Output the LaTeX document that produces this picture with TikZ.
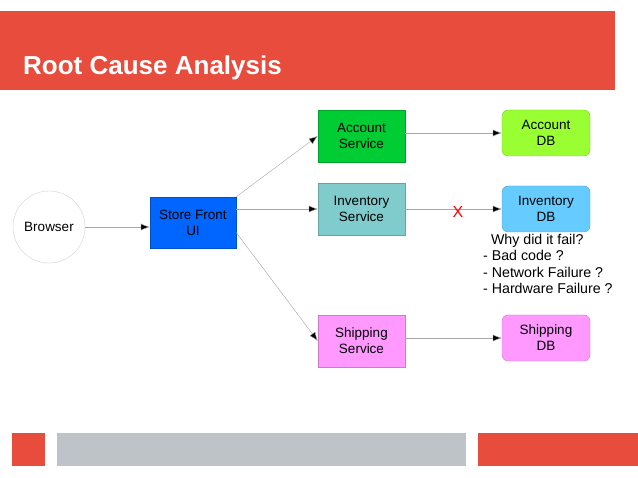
\documentclass[tikz,border=0pt]{standalone}
\usepackage{fontspec}
\setmainfont{Liberation Sans}
\usetikzlibrary{arrows.meta}
\definecolor{hred}{HTML}{E74C3C}
\definecolor{fgray}{HTML}{BDC3C7}
\begin{document}
\begin{tikzpicture}[x=1pt,y=-1pt,
 box/.style={draw=#1!80!black,fill=#1,minimum width=87pt,minimum height=52pt,align=center,font=\fontsize{13.5}{16}\selectfont,inner sep=1pt},
 db/.style={draw=#1!80!black,fill=#1,rounded corners=6pt,minimum width=88pt,minimum height=46pt,align=center,font=\fontsize{13.5}{16}\selectfont,inner sep=1pt},
 arr/.style={draw=gray!70,-{Latex[length=9pt,width=7pt,fill=black]}}]
\useasboundingbox (0,0) rectangle (638,478);
\fill[white] (0,0) rectangle (638,478);
\fill[hred] (0,11) rectangle (615,90);
\node[anchor=base west,text=white,font=\fontsize{26}{29}\selectfont\bfseries,inner sep=0pt] (title) at (23,75) {Root Cause Analysis};
\node[circle,draw=gray!35,minimum size=72pt,font=\fontsize{13.5}{16}\selectfont] (br) at (49,227) {Browser};
\node[box=white,fill={rgb,255:red,0;green,102;blue,255},draw={rgb,255:red,0;green,80;blue,200},minimum height=51pt,minimum width=86pt] (sf) at (193,222.5) {Store Front\\UI};
\definecolor{cgreen}{HTML}{00CC33}
\definecolor{cteal}{HTML}{80CCCC}
\definecolor{cpink}{HTML}{FF99FF}
\definecolor{clime}{HTML}{99FF33}
\definecolor{cblue}{HTML}{66CCFF}
\node[box=cgreen] (as) at (361.5,136) {Account\\Service};
\node[box=cteal] (is) at (361.5,209) {Inventory\\Service};
\node[box=cpink] (ss) at (361.5,341) {Shipping\\Service};
\node[db=clime] (adb) at (546,133) {Account\\DB};
\node[db=cblue] (idb) at (546,209) {Inventory\\DB};
\node[db=cpink] (sdb) at (546,338) {Shipping\\DB};
\draw[arr] (br) -- (sf.west|-br);
\draw[arr] (sf.north east) -- (as.west);
\draw[arr] (sf.east|-is) -- (is.west);
\draw[arr] ([yshift=-10pt]sf.east) -- (ss.west);
\draw[arr] (as.east|-adb) -- (adb.west);
\draw[arr] (is.east) -- (idb.west);
\draw[arr] (ss.east|-sdb) -- (sdb.west);
\node[text=red,font=\fontsize{16}{18}\selectfont] (x) at (458,212) {X};
\node[anchor=north west,align=left,font=\fontsize{14.2}{16.5}\selectfont,inner sep=0pt] (why) at (483,234) {\ \ Why did it fail?\\- Bad code ?\\- Network Failure ?\\- Hardware Failure ?};
\fill[hred] (12,433) rectangle (45,466);
\fill[fgray] (57,433) rectangle (466,466);
\fill[hred] (478,433) rectangle (638,466);
\end{tikzpicture}
\end{document}
